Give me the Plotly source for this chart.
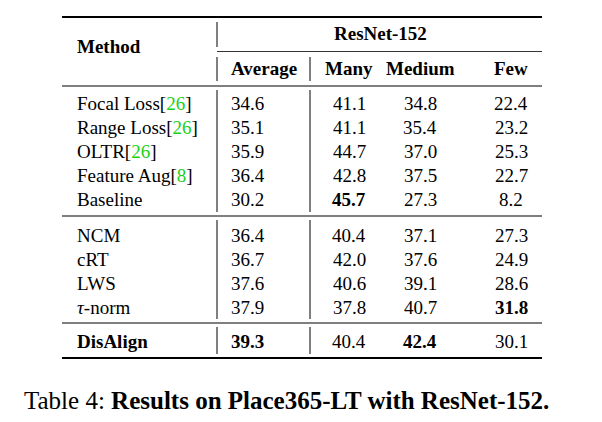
import plotly.graph_objects as go

methods = ["Focal Loss[<span style='color:#19d219'>26</span>]", "Range Loss[<span style='color:#19d219'>26</span>]",
           "OLTR[<span style='color:#19d219'>26</span>]", "Feature Aug[<span style='color:#19d219'>8</span>]", "Baseline",
           "NCM", "cRT", "LWS", "<i>τ</i>-norm", "<b>DisAlign</b>"]
average = ["34.6", "35.1", "35.9", "36.4", "30.2", "36.4", "36.7", "37.6", "37.9", "39.3"]
many = ["41.1", "41.1", "44.7", "42.8", "45.7", "40.4", "42.0", "40.6", "37.8", "40.4"]
medium = ["34.8", "35.4", "37.0", "37.5", "27.3", "37.1", "37.6", "39.1", "40.7", "42.4"]
few = ["22.4", "23.2", "25.3", "22.7", "8.2", "27.3", "24.9", "28.6", "31.8", "30.1"]
bold = {(4, "many"), (8, "few"), (9, "average"), (9, "medium")}
headers = ["Average", "Many", "Medium", "Few"]

row_y = [103, 127, 151, 175, 199, 235, 259, 283, 307, 341]
FONT = "Liberation Serif, Times New Roman, serif"
OX, OY = -8, -8
fig = go.Figure()
ann = []
def txt(x, y, s, anchor="left", size=19):
    ann.append(dict(x=x + OX, y=y + OY, text=s, showarrow=False, xanchor=anchor, yanchor="middle",
                    font=dict(family=FONT, size=size, color="black")))

txt(75, 46, "<b>Method</b>")
txt(380, 33, "<b>ResNet-152</b>", "center")
txt(229, 68, "<b>Average</b>")
txt(349, 68, "<b>Many</b>", "center")
txt(420, 68, "<b>Medium</b>", "center")
txt(511, 68, "<b>Few</b>", "center")
for i, y in enumerate(row_y):
    txt(75, y, methods[i])
    for key, vals, x, a in [("average", average, 229, "left"), ("many", many, 349, "center"),
                            ("medium", medium, 420, "center"), ("few", few, 511, "center")]:
        v = vals[i]
        if (i, key) in bold:
            v = "<b>" + v + "</b>"
        txt(x, y, v, a)

txt(22, 400, "Table 4: <b>Results on Place365-LT with ResNet-152.</b>", "left", 25)

shapes = []
def hline(x0, x1, y, w=1.2):
    shapes.append(dict(type="line", x0=x0 + OX, x1=x1 + OX, y0=y + OY, y1=y + OY, line=dict(color="black", width=w)))
def vline(x, y0, y1):
    shapes.append(dict(type="line", x0=x + OX, x1=x + OX, y0=y0 + OY, y1=y1 + OY, line=dict(color="black", width=1)))
hline(62, 542, 17, 2)
hline(217, 542, 51.5, 0.8)
hline(62, 542, 86, 1.2)
hline(62, 542, 216, 1.2)
hline(62, 542, 323, 1.2)
hline(62, 542, 358, 2)
vline(217, 22, 47)
vline(217, 57, 81)
vline(310, 57, 81)
for (a, b) in [(90, 212), (220, 319), (327, 354)]:
    vline(217, a, b)
    vline(310, a, b)

fig.update_layout(width=602, height=422, margin=dict(l=0, r=0, t=0, b=0),
                  plot_bgcolor="white", paper_bgcolor="white",
                  xaxis=dict(range=[0, 602], visible=False, fixedrange=True),
                  yaxis=dict(range=[422, 0], visible=False, fixedrange=True),
                  annotations=ann, shapes=shapes, showlegend=False)
fig.write_html("out.html")
